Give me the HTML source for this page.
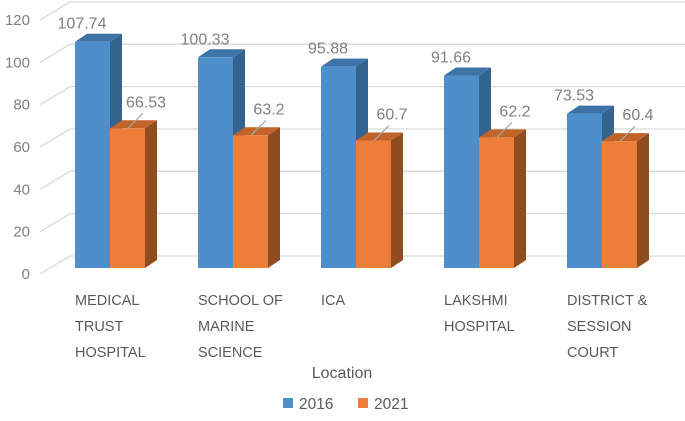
<!DOCTYPE html>
<html><head><meta charset="utf-8"><style>
body{margin:0;background:#fff}
svg text{font-family:"Liberation Sans",sans-serif}
</style></head><body>
<svg id="c" width="685" height="416" xmlns="http://www.w3.org/2000/svg"></svg>
<script>
const categories=[["MEDICAL","TRUST","HOSPITAL"],["SCHOOL OF","MARINE","SCIENCE"],["ICA"],["LAKSHMI","HOSPITAL"],["DISTRICT &","SESSION","COURT"]];
const series2016=[107.74,100.33,95.88,91.66,73.53];
const series2021=[66.53,63.2,60.7,62.2,60.4];
const labels2016=["107.74","100.33","95.88","91.66","73.53"];
const labels2021=["66.53","63.2","60.7","62.2","60.4"];
const yTicks=[0,20,40,60,80,100,120];
const NS="http://www.w3.org/2000/svg";
const svg=document.getElementById('c');
function mk(t,a,p){const e=document.createElementNS(NS,t);for(const k in a)e.setAttribute(k,a[k]);(p||svg).appendChild(e);return e;}
const yBack=v=>256-v*2.117, yFront=v=>274-v*2.117, yBar=v=>268-v*2.1;
const gx=i=>75+i*123, BW=35, DX=12, DY=8;
yTicks.forEach(v=>{
 const g=mk('g',{});
 
 
 mk('line',{x1:70,y1:yBack(v),x2:685,y2:yBack(v),stroke:'#d9d9d9','stroke-width':1.3},g);
 mk('line',{x1:40,y1:yFront(v),x2:70,y2:yBack(v),stroke:'#d9d9d9','stroke-width':1.3},g);
 const t=mk('text',{x:30,y:yFront(v)+5,'text-anchor':'end','font-size':15,fill:'#808080'});
 t.textContent=v;
 
 
});
function bar(x,v,front,top,side,name){
 const g=mk('g',{});
 
 
 const y=yBar(v),b=268;
 mk('polygon',{points:`${x+BW},${y} ${x+BW+DX},${y-DY} ${x+BW+DX},${b-DY} ${x+BW},${b}`,fill:side},g);
 mk('polygon',{points:`${x},${y} ${x+DX},${y-DY} ${x+BW+DX},${y-DY} ${x+BW},${y}`,fill:top},g);
 mk('rect',{x:x,y:y,width:BW,height:b-y,fill:front},g);
}
categories.forEach((c,i)=>{
 const x=gx(i);
 bar(x,series2016[i],'#4e8fcb','#3d73a6','#336490','bar-2016-'+i);
 bar(x+BW,series2021[i],'#ec7e3a','#c0642a','#8e4c1f','bar-2021-'+i);
 let t=mk('text',{x:x+7,y:yBar(series2016[i])-13,'text-anchor':'middle','font-size':16,fill:'#808080'});
 t.textContent=labels2016[i];
 
 
 const oy=yBar(series2021[i]);
 const l=mk('line',{x1:x+BW+18,y1:oy,x2:x+BW+33,y2:oy-15,stroke:'#a6a6a6','stroke-width':1.2});
 
 
 t=mk('text',{x:x+BW+36,y:oy-21,'text-anchor':'middle','font-size':16,fill:'#808080'});
 t.textContent=labels2021[i];
 
 
 c.forEach((line,j)=>{
  const ct=mk('text',{x:x,y:305+j*26,'font-size':14.5,fill:'#595959'});
  ct.textContent=line;
  
  
 });
});
let t=mk('text',{x:342,y:378,'text-anchor':'middle','font-size':16,fill:'#595959'});
t.textContent='Location';


[[283,'#4e8fcb','2016'],[358,'#ec7e3a','2021']].forEach(([x,c,s])=>{
 const g=mk('g',{});
 
 
 mk('rect',{x:x,y:398,width:10,height:10,fill:c},g);
 const tt=mk('text',{x:x+16,y:409,'font-size':15.5,fill:'#595959'},g);
 tt.textContent=s;
});
</script>
</body></html>
